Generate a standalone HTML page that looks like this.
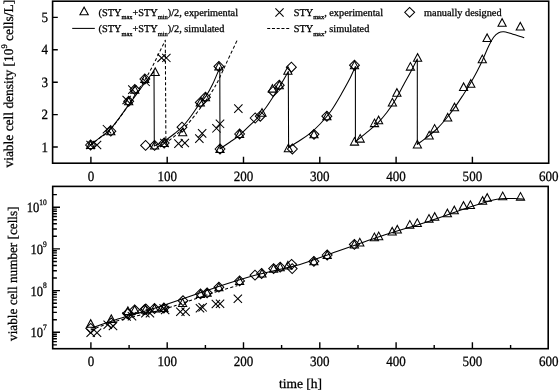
<!DOCTYPE html>
<html><head><meta charset="utf-8"><title>viable cell density</title>
<style>html,body{margin:0;padding:0;background:#fff}body{width:559px;height:392px;position:relative;overflow:hidden}</style></head>
<body>
<svg width="559" height="392" viewBox="0 0 559 392" style="position:absolute;left:0;top:0">
<rect width="559" height="392" fill="#fff"/>
<g fill="none" stroke="#000" stroke-width="1.6">
<rect x="52.6" y="1.2" width="496.1" height="162.0"/>
<rect x="52.7" y="186.4" width="495.5" height="162.3"/>
</g>
<g stroke="#000" stroke-width="1.4" fill="none">
<path d="M52.6 147.0h5.2M52.6 114.6h5.2M52.6 82.2h5.2M52.6 49.8h5.2M52.6 17.4h5.2M90.9 163.2v-6.5M90.9 348.7v-6.5M167.2 163.2v-6.5M167.2 348.7v-6.5M243.5 163.2v-6.5M243.5 348.7v-6.5M319.8 163.2v-6.5M319.8 348.7v-6.5M396.1 163.2v-6.5M396.1 348.7v-6.5M472.4 163.2v-6.5M472.4 348.7v-6.5M129.1 348.7v-3.6M205.4 348.7v-3.6M281.6 348.7v-3.6M358.0 348.7v-3.6M434.2 348.7v-3.6M510.6 348.7v-3.6M52.7 344.9h4.2M52.7 341.6h4.2M52.7 338.8h4.2M52.7 336.3h4.2M52.7 334.2h4.2M52.7 332.3h7.3M52.7 319.7h4.2M52.7 312.4h4.2M52.7 307.2h4.2M52.7 303.2h4.2M52.7 299.9h4.2M52.7 297.1h4.2M52.7 294.6h4.2M52.7 292.5h4.2M52.7 290.6h7.3M52.7 278.0h4.2M52.7 270.7h4.2M52.7 265.5h4.2M52.7 261.5h4.2M52.7 258.2h4.2M52.7 255.4h4.2M52.7 252.9h4.2M52.7 250.8h4.2M52.7 248.9h7.3M52.7 236.3h4.2M52.7 229.0h4.2M52.7 223.8h4.2M52.7 219.8h4.2M52.7 216.5h4.2M52.7 213.7h4.2M52.7 211.2h4.2M52.7 209.1h4.2M52.7 207.2h7.3M52.7 194.6h4.2"/>
</g>
<g fill="none" stroke="#000" stroke-width="1.05" stroke-linejoin="round">
<path d="M89.9 145.3C91.5 144.1 96.4 140.4 99.6 137.9C102.8 135.4 106.1 133.7 109.3 130.4C112.5 127.1 115.8 122.5 119.0 118.3C122.2 114.0 125.5 109.4 128.7 104.9C131.9 100.5 135.6 95.4 138.4 91.6C141.2 87.8 143.1 85.2 145.7 81.8C148.3 78.4 152.6 72.8 154.0 71.0L154.3 146.0C156.1 145.1 161.8 142.6 165.3 140.4C168.8 138.2 172.5 135.2 175.5 132.8C178.5 130.4 180.6 128.7 183.2 125.9C185.8 123.1 188.1 120.0 190.9 116.2C193.7 112.5 197.2 106.8 199.8 103.4C202.4 100.0 204.1 99.0 206.2 95.8C208.3 92.6 210.3 89.0 212.6 84.3C214.9 79.6 218.6 70.3 219.8 67.5L220.0 148.7C221.7 147.6 226.9 144.2 230.1 142.0C233.3 139.8 236.1 138.1 239.4 135.3C242.7 132.5 247.0 128.1 250.1 125.1C253.2 122.1 255.5 120.1 258.2 117.1C260.9 114.1 263.5 110.9 266.2 107.2C268.9 103.5 271.8 98.9 274.2 95.1C276.6 91.3 278.5 88.3 280.9 84.4C283.2 80.5 287.1 73.7 288.3 71.5L288.6 147.6C290.3 146.5 295.2 143.5 298.7 141.2C302.2 138.9 305.8 136.8 309.4 133.9C313.0 131.0 316.5 127.8 320.1 124.0C323.7 120.2 327.2 116.2 330.8 111.2C334.4 106.2 338.4 99.2 341.5 93.8C344.6 88.4 347.3 83.6 349.6 79.1C351.9 74.5 354.4 68.6 355.4 66.5L355.4 141.7C357.4 140.1 363.5 135.2 367.4 131.9C371.3 128.6 375.3 125.4 378.6 122.1C381.9 118.8 384.2 116.0 387.0 112.3C389.8 108.6 392.6 104.4 395.4 99.7C398.2 95.0 401.3 88.9 403.9 84.2C406.5 79.5 408.7 75.8 410.9 71.6C413.1 67.4 416.2 61.1 417.3 59.0L417.3 144.4C418.8 143.3 422.9 140.5 426.1 137.9C429.4 135.3 433.2 132.5 436.8 129.0C440.4 125.5 444.4 120.8 447.5 117.0C450.6 113.2 452.8 110.1 455.5 106.3C458.2 102.5 461.1 98.0 463.6 94.2C466.1 90.4 468.1 87.3 470.3 83.5C472.5 79.7 475.0 75.2 477.0 71.4C479.0 67.6 480.4 64.9 482.3 60.7C484.2 56.6 486.6 50.4 488.5 46.5C490.4 42.6 491.9 39.5 493.6 37.2C495.3 34.9 497.0 33.6 498.7 32.7C500.4 31.8 501.9 31.7 503.8 31.8C505.7 31.9 506.6 32.3 510.0 33.3C513.4 34.3 521.8 37.0 524.2 37.7" />
<path d="M89.9 145.3C91.5 144.1 96.4 140.6 99.6 138.2C102.8 135.8 106.1 134.1 109.3 130.8C112.5 127.5 115.8 123.0 119.0 118.6C122.2 114.2 125.5 109.4 128.7 104.6C131.9 99.8 135.6 94.1 138.4 89.8C141.2 85.5 143.4 82.3 145.7 78.5C148.0 74.7 150.0 71.1 152.2 67.0C154.3 62.9 156.4 58.5 158.6 54.0C160.8 49.5 164.2 42.6 165.3 40.3L165.9 143.0C167.5 141.7 171.8 138.6 175.5 135.3C179.2 132.0 184.1 128.0 188.3 123.3C192.6 118.6 196.9 112.7 201.0 107.2C205.1 101.8 209.6 95.3 212.6 90.6C215.6 85.9 216.6 83.9 218.9 79.2C221.2 74.5 223.5 69.2 226.6 62.6C229.7 56.0 235.7 43.4 237.5 39.6" stroke-dasharray="3.2 2.2"/>
<path d="M90.7 328.3C94.8 326.9 103.5 323.5 115.0 319.9C126.5 316.3 143.3 311.9 160.0 306.5C176.7 301.1 199.2 292.9 215.0 287.7C230.8 282.5 240.8 279.2 255.0 275.3C269.2 271.4 287.5 267.9 300.0 264.4C312.5 260.8 316.7 258.6 330.0 254.0C343.3 249.3 363.3 242.0 380.0 236.5C396.7 231.0 415.9 225.6 430.0 221.0C444.1 216.4 455.8 211.8 464.6 208.8C473.4 205.8 478.8 204.3 483.0 203.0C487.2 201.7 487.7 201.4 490.0 200.8C492.3 200.2 494.3 199.6 497.0 199.2C499.7 198.8 503.0 198.6 506.0 198.5C509.0 198.4 511.9 198.5 515.0 198.6C518.1 198.7 523.0 199.1 524.6 199.2" />
<path d="M90.7 330.0C94.8 328.6 102.8 325.0 115.0 321.5C127.2 318.0 152.4 312.3 163.7 309.2C175.0 306.1 174.4 305.8 183.0 303.0C191.6 300.2 205.9 295.1 215.0 292.2C224.1 289.3 233.8 286.7 237.5 285.6" stroke-dasharray="3.2 2.2"/>
<path d="M72.2 28.4H94.8"/>
<path d="M267.2 28.5H290" stroke-dasharray="3 1.75"/>
</g>
<g fill="none" stroke="#000" stroke-width="1.05">
<path d="M85.6 145.0L90.6 140.1L95.5 145.0L90.6 149.9Z"/>
<path d="M105.8 131.2L110.8 126.2L115.8 131.2L110.8 136.1Z"/>
<path d="M123.7 101.3L128.7 96.3L133.6 101.3L128.7 106.2Z"/>
<path d="M129.9 89.6L134.8 84.6L139.8 89.6L134.8 94.5Z"/>
<path d="M139.9 79.0L144.8 74.0L149.8 79.0L144.8 84.0Z"/>
<path d="M140.7 145.4L145.6 140.5L150.5 145.4L145.6 150.3Z"/>
<path d="M149.7 145.4L154.6 140.5L159.5 145.4L154.6 150.3Z"/>
<path d="M159.2 143.0L164.2 138.1L169.1 143.0L164.2 147.9Z"/>
<path d="M177.1 127.2L182.0 122.2L186.9 127.2L182.0 132.2Z"/>
<path d="M195.4 102.4L200.3 97.5L205.2 102.4L200.3 107.4Z"/>
<path d="M200.6 97.2L205.5 92.2L210.4 97.2L205.5 102.2Z"/>
<path d="M214.0 66.4L218.9 61.5L223.8 66.4L218.9 71.4Z"/>
<path d="M215.1 149.0L220.0 144.1L224.9 149.0L220.0 153.9Z"/>
<path d="M234.7 134.0L239.6 129.1L244.5 134.0L239.6 138.9Z"/>
<path d="M250.2 118.0L255.2 113.0L260.1 118.0L255.2 123.0Z"/>
<path d="M255.4 116.2L260.3 111.2L265.2 116.2L260.3 121.2Z"/>
<path d="M268.2 91.4L273.1 86.5L278.1 91.4L273.1 96.4Z"/>
<path d="M274.4 85.2L279.3 80.2L284.2 85.2L279.3 90.2Z"/>
<path d="M286.4 67.2L291.4 62.2L296.3 67.2L291.4 72.2Z"/>
<path d="M287.4 149.0L292.4 144.1L297.3 149.0L292.4 153.9Z"/>
<path d="M309.1 134.3L314.0 129.4L318.9 134.3L314.0 139.2Z"/>
<path d="M321.9 116.2L326.9 111.2L331.8 116.2L326.9 121.2Z"/>
<path d="M349.6 65.2L354.5 60.2L359.4 65.2L354.5 70.2Z"/>
<path d="M85.8 328.3L90.7 323.4L95.7 328.3L90.7 333.2Z"/>
<path d="M106.3 323.0L111.3 318.1L116.2 323.0L111.3 327.9Z"/>
<path d="M122.5 313.5L127.5 308.6L132.4 313.5L127.5 318.4Z"/>
<path d="M129.8 309.8L134.7 304.9L139.6 309.8L134.7 314.8Z"/>
<path d="M139.7 309.6L144.6 304.7L149.5 309.6L144.6 314.6Z"/>
<path d="M140.9 309.0L145.8 304.1L150.8 309.0L145.8 313.9Z"/>
<path d="M149.6 308.5L154.5 303.6L159.4 308.5L154.5 313.4Z"/>
<path d="M159.0 308.0L163.9 303.1L168.8 308.0L163.9 312.9Z"/>
<path d="M178.1 300.7L183.0 295.8L187.9 300.7L183.0 305.6Z"/>
<path d="M195.6 293.9L200.5 288.9L205.4 293.9L200.5 298.8Z"/>
<path d="M202.2 292.8L207.1 287.9L212.0 292.8L207.1 297.8Z"/>
<path d="M214.0 287.2L218.9 282.2L223.8 287.2L218.9 292.1Z"/>
<path d="M234.7 280.9L239.6 275.9L244.5 280.9L239.6 285.8Z"/>
<path d="M250.1 275.2L255.0 270.2L259.9 275.2L255.0 280.1Z"/>
<path d="M256.7 273.5L261.6 268.6L266.6 273.5L261.6 278.4Z"/>
<path d="M268.7 268.6L273.6 263.7L278.6 268.6L273.6 273.6Z"/>
<path d="M275.2 267.2L280.2 262.2L285.1 267.2L280.2 272.1Z"/>
<path d="M286.7 264.3L291.6 259.4L296.6 264.3L291.6 269.2Z"/>
<path d="M287.2 268.6L292.2 263.7L297.1 268.6L292.2 273.6Z"/>
<path d="M308.9 261.3L313.9 256.4L318.8 261.3L313.9 266.2Z"/>
<path d="M322.2 255.0L327.2 250.1L332.1 255.0L327.2 259.9Z"/>
<path d="M349.4 244.4L354.4 239.5L359.3 244.4L354.4 249.3Z"/>
<path d="M86.5 148.5L94.7 148.5L90.6 140.9Z"/>
<path d="M106.7 134.7L114.9 134.7L110.8 127.1Z"/>
<path d="M124.6 104.8L132.8 104.8L128.7 97.2Z"/>
<path d="M130.7 93.1L138.9 93.1L134.8 85.5Z"/>
<path d="M140.7 82.5L148.9 82.5L144.8 74.9Z"/>
<path d="M151.1 75.5L159.3 75.5L155.2 67.9Z"/>
<path d="M150.5 148.9L158.7 148.9L154.6 141.3Z"/>
<path d="M160.1 146.5L168.3 146.5L164.2 138.9Z"/>
<path d="M178.6 135.7L186.8 135.7L182.7 128.1Z"/>
<path d="M196.2 105.9L204.4 105.9L200.3 98.3Z"/>
<path d="M201.4 100.7L209.6 100.7L205.5 93.1Z"/>
<path d="M214.8 69.9L223.0 69.9L218.9 62.3Z"/>
<path d="M215.9 152.5L224.1 152.5L220.0 144.9Z"/>
<path d="M235.5 137.5L243.7 137.5L239.6 129.9Z"/>
<path d="M257.9 116.3L266.1 116.3L262.0 108.7Z"/>
<path d="M268.3 92.1L276.5 92.1L272.4 84.5Z"/>
<path d="M275.2 88.7L283.4 88.7L279.3 81.1Z"/>
<path d="M283.8 74.2L292.0 74.2L287.9 66.6Z"/>
<path d="M284.3 151.7L292.5 151.7L288.4 144.1Z"/>
<path d="M309.9 137.8L318.1 137.8L314.0 130.2Z"/>
<path d="M322.8 119.7L331.0 119.7L326.9 112.1Z"/>
<path d="M350.4 68.7L358.6 68.7L354.5 61.1Z"/>
<path d="M350.4 145.1L358.6 145.1L354.5 137.5Z"/>
<path d="M356.1 142.1L364.3 142.1L360.2 134.5Z"/>
<path d="M370.4 126.6L378.6 126.6L374.5 119.0Z"/>
<path d="M374.5 123.8L382.7 123.8L378.6 116.2Z"/>
<path d="M388.3 105.9L396.5 105.9L392.4 98.3Z"/>
<path d="M392.8 96.3L401.0 96.3L396.9 88.7Z"/>
<path d="M406.3 70.1L414.5 70.1L410.4 62.5Z"/>
<path d="M413.5 61.3L421.7 61.3L417.6 53.7Z"/>
<path d="M413.3 147.9L421.5 147.9L417.4 140.3Z"/>
<path d="M425.1 138.9L433.3 138.9L429.2 131.3Z"/>
<path d="M430.5 132.1L438.7 132.1L434.6 124.5Z"/>
<path d="M443.6 121.0L451.8 121.0L447.7 113.4Z"/>
<path d="M450.4 110.8L458.6 110.8L454.5 103.2Z"/>
<path d="M459.5 90.5L467.7 90.5L463.6 82.9Z"/>
<path d="M466.7 87.3L474.9 87.3L470.8 79.7Z"/>
<path d="M478.2 62.7L486.4 62.7L482.3 55.1Z"/>
<path d="M483.0 41.5L491.2 41.5L487.1 33.9Z"/>
<path d="M498.0 26.3L506.2 26.3L502.1 18.7Z"/>
<path d="M516.2 30.0L524.4 30.0L520.3 22.4Z"/>
<path d="M86.6 327.3L94.8 327.3L90.7 319.7Z"/>
<path d="M107.2 322.5L115.4 322.5L111.3 314.9Z"/>
<path d="M123.8 314.5L132.0 314.5L127.9 306.9Z"/>
<path d="M130.6 313.3L138.8 313.3L134.7 305.7Z"/>
<path d="M141.3 313.1L149.5 313.1L145.4 305.5Z"/>
<path d="M150.4 312.0L158.6 312.0L154.5 304.4Z"/>
<path d="M159.8 311.5L168.0 311.5L163.9 303.9Z"/>
<path d="M178.5 306.4L186.7 306.4L182.6 298.8Z"/>
<path d="M196.4 297.4L204.6 297.4L200.5 289.8Z"/>
<path d="M203.0 296.3L211.2 296.3L207.1 288.7Z"/>
<path d="M214.8 290.7L223.0 290.7L218.9 283.1Z"/>
<path d="M235.5 284.4L243.7 284.4L239.6 276.8Z"/>
<path d="M257.9 277.0L266.1 277.0L262.0 269.4Z"/>
<path d="M269.5 272.1L277.7 272.1L273.6 264.5Z"/>
<path d="M276.1 270.7L284.3 270.7L280.2 263.1Z"/>
<path d="M283.8 269.0L292.0 269.0L287.9 261.4Z"/>
<path d="M309.8 264.8L318.0 264.8L313.9 257.2Z"/>
<path d="M323.1 258.5L331.3 258.5L327.2 250.9Z"/>
<path d="M350.3 247.9L358.5 247.9L354.4 240.3Z"/>
<path d="M355.7 245.9L363.9 245.9L359.8 238.3Z"/>
<path d="M370.3 240.7L378.5 240.7L374.4 233.1Z"/>
<path d="M374.6 239.7L382.8 239.7L378.7 232.1Z"/>
<path d="M388.1 235.0L396.3 235.0L392.2 227.4Z"/>
<path d="M393.2 233.0L401.4 233.0L397.3 225.4Z"/>
<path d="M405.7 228.1L413.9 228.1L409.8 220.5Z"/>
<path d="M413.2 226.4L421.4 226.4L417.3 218.8Z"/>
<path d="M424.9 222.1L433.1 222.1L429.0 214.5Z"/>
<path d="M430.6 220.3L438.8 220.3L434.7 212.7Z"/>
<path d="M443.3 216.8L451.5 216.8L447.4 209.2Z"/>
<path d="M450.2 213.8L458.4 213.8L454.3 206.2Z"/>
<path d="M459.4 209.3L467.6 209.3L463.5 201.7Z"/>
<path d="M466.3 208.4L474.5 208.4L470.4 200.8Z"/>
<path d="M478.5 204.3L486.7 204.3L482.6 196.7Z"/>
<path d="M483.1 201.3L491.3 201.3L487.2 193.7Z"/>
<path d="M498.6 199.7L506.8 199.7L502.7 192.1Z"/>
<path d="M516.4 200.1L524.6 200.1L520.5 192.5Z"/>
<path d="M86.4 140.8L94.8 149.2M86.4 149.2L94.8 140.8"/>
<path d="M92.8 140.8L101.2 149.2M92.8 149.2L101.2 140.8"/>
<path d="M102.8 125.0L111.2 133.3M102.8 133.3L111.2 125.0"/>
<path d="M122.5 95.8L130.8 104.2M122.5 104.2L130.8 95.8"/>
<path d="M128.2 85.4L136.5 93.8M128.2 93.8L136.5 85.4"/>
<path d="M141.5 77.6L149.8 86.0M141.5 86.0L149.8 77.6"/>
<path d="M157.4 53.8L165.8 62.0M157.4 62.0L165.8 53.8"/>
<path d="M162.2 53.8L170.5 62.0M162.2 62.0L170.5 53.8"/>
<path d="M160.2 138.8L168.6 147.2M160.2 147.2L168.6 138.8"/>
<path d="M174.3 139.4L182.7 147.8M174.3 147.8L182.7 139.4"/>
<path d="M180.7 138.8L189.0 147.2M180.7 147.2L189.0 138.8"/>
<path d="M195.2 134.4L203.5 142.8M195.2 142.8L203.5 134.4"/>
<path d="M198.0 129.2L206.3 137.6M198.0 137.6L206.3 129.2"/>
<path d="M212.3 124.2L220.7 132.5M212.3 132.5L220.7 124.2"/>
<path d="M215.8 119.6L224.2 128.0M215.8 128.0L224.2 119.6"/>
<path d="M234.2 104.4L242.5 112.8M234.2 112.8L242.5 104.4"/>
<path d="M86.5 328.7L94.9 336.9M86.5 336.9L94.9 328.7"/>
<path d="M92.8 328.7L101.2 336.9M92.8 336.9L101.2 328.7"/>
<path d="M103.5 320.6L111.9 328.8M103.5 328.8L111.9 320.6"/>
<path d="M108.8 321.9L117.2 330.1M108.8 330.1L117.2 321.9"/>
<path d="M122.4 312.4L130.8 320.6M122.4 320.6L130.8 312.4"/>
<path d="M127.8 312.2L136.2 320.4M127.8 320.4L136.2 312.2"/>
<path d="M141.2 309.2L149.6 317.4M141.2 317.4L149.6 309.2"/>
<path d="M145.8 309.2L154.1 317.4M145.8 317.4L154.1 309.2"/>
<path d="M159.5 304.4L167.8 312.6M159.5 312.6L167.8 304.4"/>
<path d="M161.0 305.9L169.3 314.1M161.0 314.1L169.3 305.9"/>
<path d="M176.2 307.7L184.5 315.9M176.2 315.9L184.5 307.7"/>
<path d="M181.5 307.7L189.8 315.9M181.5 315.9L189.8 307.7"/>
<path d="M195.8 304.2L204.2 312.4M195.8 312.4L204.2 304.2"/>
<path d="M198.5 303.2L206.8 311.5M198.5 311.5L206.8 303.2"/>
<path d="M211.7 299.9L220.0 308.1M211.7 308.1L220.0 299.9"/>
<path d="M215.9 299.7L224.2 307.9M215.9 307.9L224.2 299.7"/>
<path d="M233.7 294.6L242.0 302.8M233.7 302.8L242.0 294.6"/>
<path d="M79.9 14.8L88.3 14.8L84.1 7.2Z"/>
<path d="M275.4 8.3L283.6 16.6M275.4 16.6L283.6 8.3"/>
<path d="M404.7 12.3L409.6 7.4L414.6 12.3L409.6 17.2Z"/>
</g>
<g font-family="'Liberation Serif', serif" fill="#000" stroke="#000" stroke-width="0.28" text-rendering="geometricPrecision">
<g font-size="14.2" text-anchor="end">
<text transform="translate(48 151.6) scale(0.92 1)">1</text>
<text transform="translate(48 119.2) scale(0.92 1)">2</text>
<text transform="translate(48 86.8) scale(0.92 1)">3</text>
<text transform="translate(48 54.4) scale(0.92 1)">4</text>
<text transform="translate(48 22.0) scale(0.92 1)">5</text>
</g>
<g font-size="14.2" text-anchor="middle">
<text transform="translate(90.9 181.0) scale(0.92 1)">0</text>
<text transform="translate(90.9 366.3) scale(0.92 1)">0</text>
<text transform="translate(167.2 181.0) scale(0.92 1)">100</text>
<text transform="translate(167.2 366.3) scale(0.92 1)">100</text>
<text transform="translate(243.5 181.0) scale(0.92 1)">200</text>
<text transform="translate(243.5 366.3) scale(0.92 1)">200</text>
<text transform="translate(319.8 181.0) scale(0.92 1)">300</text>
<text transform="translate(319.8 366.3) scale(0.92 1)">300</text>
<text transform="translate(396.1 181.0) scale(0.92 1)">400</text>
<text transform="translate(396.1 366.3) scale(0.92 1)">400</text>
<text transform="translate(472.4 181.0) scale(0.92 1)">500</text>
<text transform="translate(472.4 366.3) scale(0.92 1)">500</text>
<text transform="translate(548.7 181.0) scale(0.92 1)">600</text>
<text transform="translate(548.7 366.3) scale(0.92 1)">600</text>
<text x="300.5" y="387.6" font-size="13.5">time [h]</text>
</g>
<g font-size="14" text-anchor="end">
<text transform="translate(46.8 337.3) scale(0.9 1)">10<tspan font-size="8.3" dy="-7.2">7</tspan></text>
<text transform="translate(46.8 295.6) scale(0.9 1)">10<tspan font-size="8.3" dy="-7.2">8</tspan></text>
<text transform="translate(46.8 253.9) scale(0.9 1)">10<tspan font-size="8.3" dy="-7.2">9</tspan></text>
<text transform="translate(46.8 212.2) scale(0.9 1)">10<tspan font-size="8.3" dy="-7.2">10</tspan></text>
</g>
<g font-size="13.45" text-anchor="middle">
<text transform="translate(13 83.7) rotate(-90)">viable cell density [10<tspan font-size="8.5" dy="-6">9</tspan><tspan dy="6"> cells/L]</tspan></text>
<text font-size="13.2" transform="translate(16.7 273.7) rotate(-90)">viable cell number [cells]</text>
</g>
<g font-size="10.3">
<text x="98.6" y="15.5">(STY<tspan font-size="6.4" dy="3.8">max</tspan><tspan dy="-3.8">+STY</tspan><tspan font-size="6.4" dy="3.8">min</tspan><tspan dy="-3.8">)/2, experimental</tspan></text>
<text x="98.6" y="31.7">(STY<tspan font-size="6.4" dy="3.8">max</tspan><tspan dy="-3.8">+STY</tspan><tspan font-size="6.4" dy="3.8">min</tspan><tspan dy="-3.8">)/2, simulated</tspan></text>
<text x="293.7" y="15.5">STY<tspan font-size="6.4" dy="3.8">max</tspan><tspan dy="-3.8">, experimental</tspan></text>
<text x="293.7" y="31.7">STY<tspan font-size="6.4" dy="3.8">max</tspan><tspan dy="-3.8">, simulated</tspan></text>
<text x="424.1" y="15.5">manually designed</text>
</g>
</g>
</svg>
</body></html>
